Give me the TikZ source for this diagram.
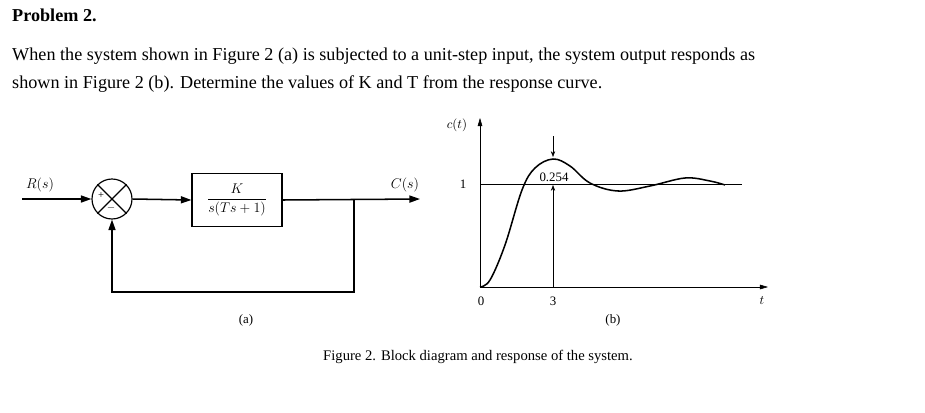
\documentclass[tikz,border=0pt]{standalone}
\usepackage{amsmath}
\usepackage{fontspec}
\setmainfont{Liberation Serif}
\usetikzlibrary{arrows.meta}
\tikzset{
    sig/.style = {line width=1.3pt, -{Triangle[length=9pt,width=6pt]}},
    wire/.style = {line width=1.3pt},
    block/.style = {draw, line width=1pt, minimum width=2.7cm, minimum height=1.6cm, inner sep=0pt},
    thin/.style = {line width=0.5pt},
    lbl/.style = {font=\fontsize{11}{12}\selectfont, inner sep=1pt}
}
\begin{document}
\begin{tikzpicture}[x=0.03cm, y=-0.03cm]
    \useasboundingbox (0,0) rectangle (925,412);
    % text
    \node [anchor=west, inner sep=0pt, font=\fontsize{15.5}{18}\selectfont\bfseries] (title) at (12,15) {Problem 2.};
    \node [anchor=west, inner sep=0pt, font=\fontsize{15.5}{18}\selectfont] (line1) at (12,56)
        {When the system shown in Figure 2 (a) is subjected to a unit-step input, the system output responds as};
    \node [anchor=west, inner sep=0pt, font=\fontsize{15.5}{18}\selectfont] (line2) at (12,84)
        {shown in Figure 2 (b). Determine the values of K and T from the response curve.};
    % block diagram
    \coordinate (in) at (22,199);
    \node [draw, circle, line width=1pt, minimum size=1.2cm, inner sep=0pt] (sum) at (112,199) {};
    \draw [line width=1pt] (sum.north west) -- (sum.south east) (sum.north east) -- (sum.south west);
    \node [lbl, font=\fontsize{9}{10}\selectfont] at (101,196) {+};
    \node [lbl, font=\fontsize{9}{10}\selectfont] at (111,208) {$-$};
    \node [block] (plant) at (237,200) {\fontsize{12}{14}\selectfont$\dfrac{K}{s(Ts+1)}$};
    \coordinate (out) at (420,199);
    \coordinate (branch) at (354,199);
    \coordinate (fb) at (354,292);
    \draw [sig] (in) -- (sum.west);
    \draw [sig] (sum.east) -- (plant.west);
    \draw [sig] (plant.east) -- (out);
    \draw [wire] (branch) -- (fb) -| ([yshift=-18pt]sum.south);
    \draw [sig] ([yshift=-18pt]sum.south) -- (sum.south);
    \node [lbl, font=\fontsize{12}{14}\selectfont] (rs) at (40,185) {$R(s)$};
    \node [lbl, font=\fontsize{12}{14}\selectfont] (cs) at (405,185) {$C(s)$};
    \node [lbl] (capa) at (246,320) {(a)};
    % response
    \coordinate (origin) at (480,287);
    \coordinate (yend) at (480,118);
    \coordinate (tend) at (768,287);
    \draw [thin, -{Triangle[length=7pt,width=4pt]}] (origin) -- (yend);
    \draw [thin, -{Triangle[length=7pt,width=4pt]}] (origin) -- (tend);
    \draw [thin] (480,184) -- (742,184);
    \draw [thin, -{Stealth[length=5pt]}] (553,136) -- (553,157);
    \draw [thin, -{Stealth[length=5pt]}] (553,287) -- (553,185);
    \draw [line width=1.3pt] plot [smooth, tension=0.6] coordinates
        {(480,287) (490,280) (505,245) (522,190) (535,168) (553,159) (570,166) (590,183) (618,191) (650,186) (685,178) (710,181) (725,185)};
    \node [lbl] (cl) at (457,125) {$c(t)$};
    \node [lbl] (one) at (463,184) {1};
    \node [lbl] (zero) at (481,301) {0};
    \node [lbl] (three) at (553,301) {3};
    \node [lbl] (tl) at (762,301) {$t$};
    \node [lbl] (pk) at (554,177) {0.254};
    \node [lbl] (capb) at (613,320) {(b)};
    \node [font=\fontsize{12.5}{14}\selectfont] (cap) at (478,357) {Figure 2. Block diagram and response of the system.};
\end{tikzpicture}
\end{document}
